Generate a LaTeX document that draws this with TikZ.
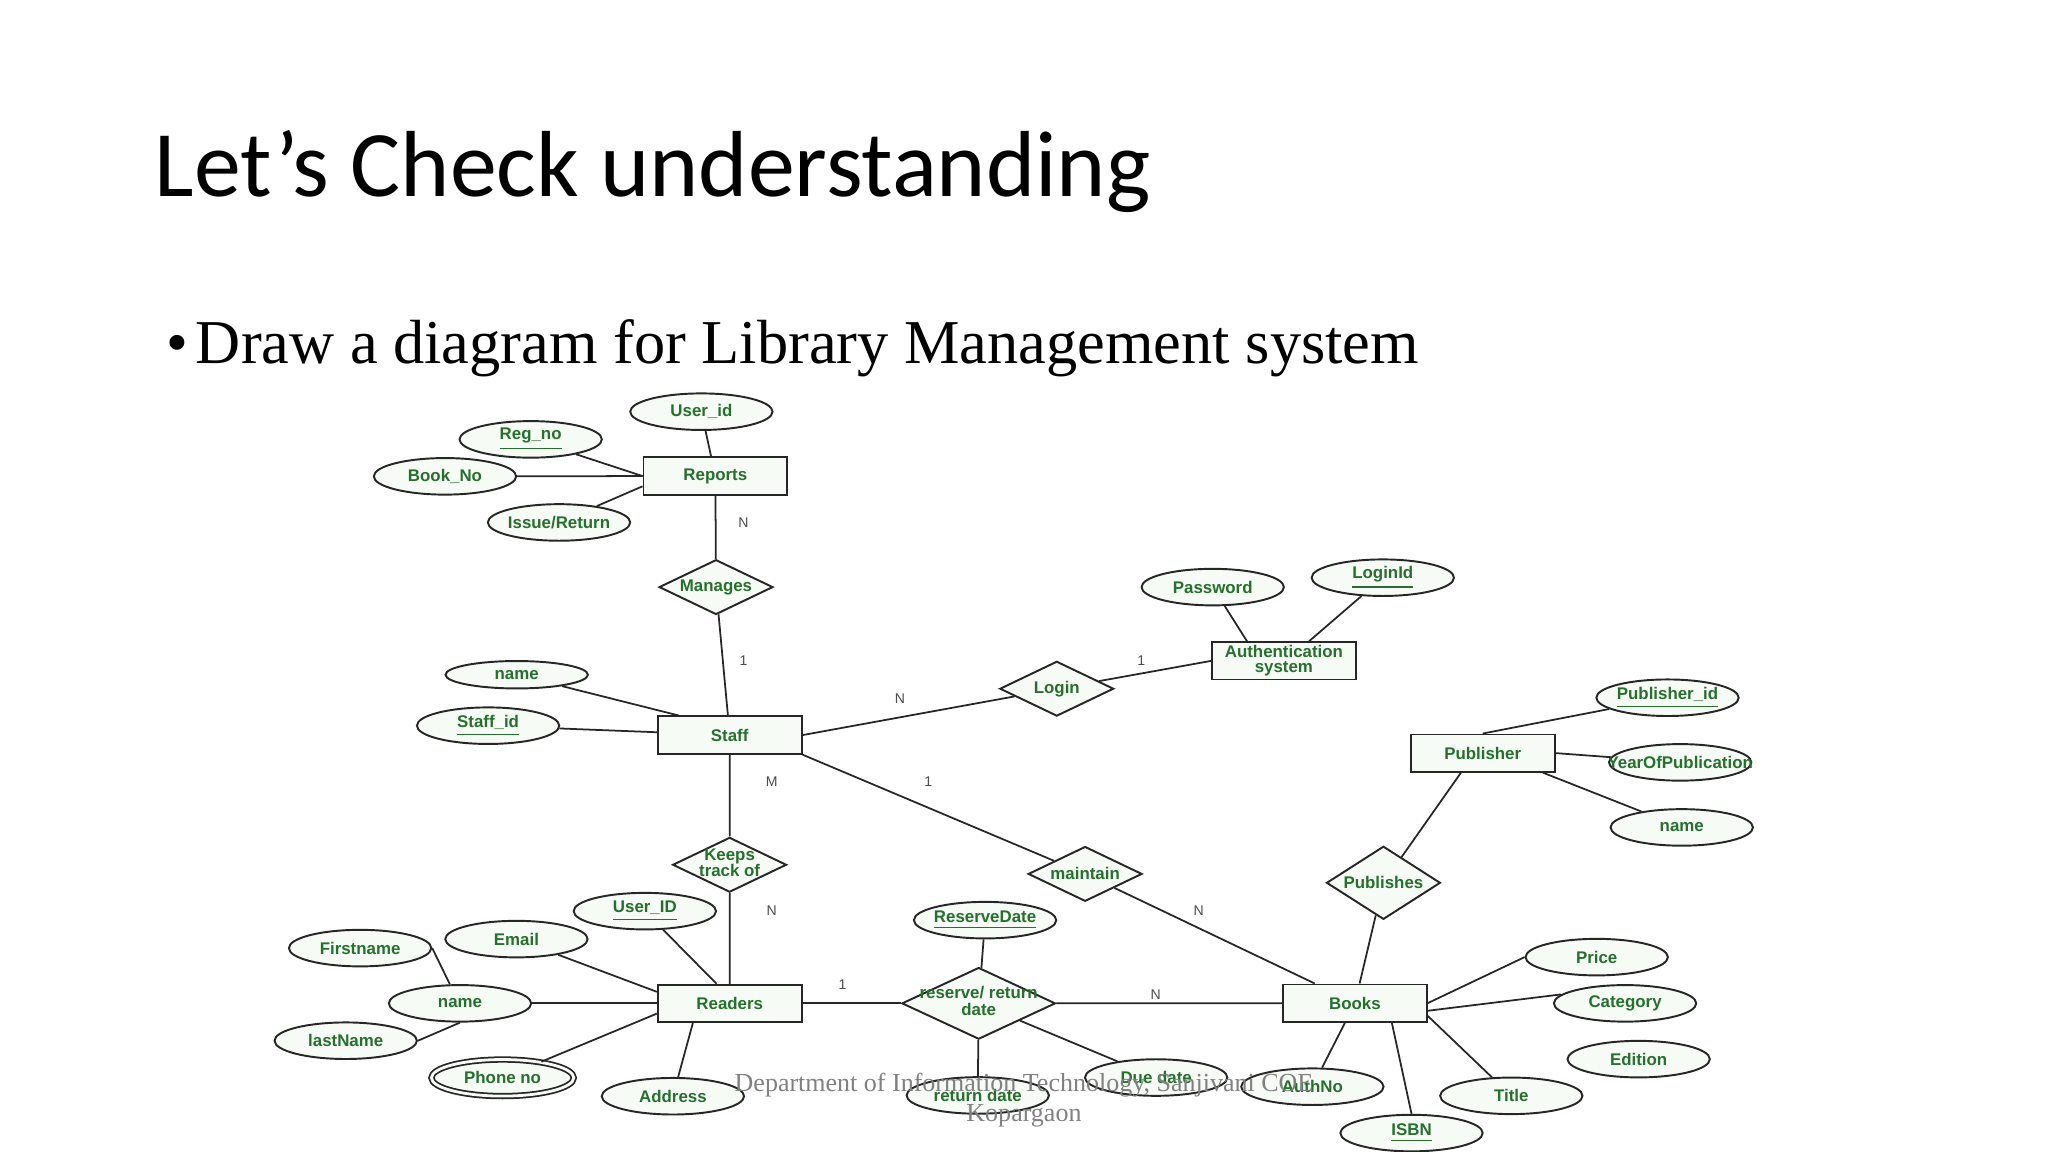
\documentclass[tikz,border=0pt]{standalone}
\usepackage{fontspec}
\usetikzlibrary{shapes.geometric}
\setmainfont{Liberation Serif}
\newfontfamily\headfont{Carlito}
\newfontfamily\erfont{Liberation Sans}
\definecolor{erfill}{RGB}{247,251,245}
\definecolor{ertext}{RGB}{36,112,44}
\definecolor{footgray}{RGB}{128,128,128}
\newcommand{\ertxt}[1]{\makebox[0pt]{#1}}
\newcommand{\twoline}[2]{\makebox[0pt]{\begin{tabular}{@{}c@{}}#1\\#2\end{tabular}}}

\begin{document}
\begin{tikzpicture}[x=0.0130612cm,y=-0.0130612cm,
  erbase/.style={draw=black!85,fill=erfill,line width=0.55pt,inner sep=0pt,
    text=ertext,font=\erfont\bfseries\fontsize{4.8}{4.2}\selectfont},
  attr/.style={erbase,ellipse,minimum width=40.5pt,minimum height=10.4pt},
  ent/.style={erbase,rectangle,minimum width=40.9pt,minimum height=10.6pt},
  rel/.style={erbase,diamond,minimum width=32.4pt,minimum height=15.6pt},
  card/.style={inner sep=0pt,text=black!70,font=\erfont\fontsize{4}{4.5}\selectfont},
  link/.style={draw=black!85,line width=0.5pt}]
\useasboundingbox (0,0) rectangle (1568,882);

% slide text
\node[anchor=base west,inner sep=0pt,font=\headfont\fontsize{26.7}{31}\selectfont] (heading) at (118,150.6) {Let’s Check understanding};
\node[anchor=base west,inner sep=0pt,font=\fontsize{17.75}{21}\selectfont] (bullet) at (127,278.2) {•};
\node[anchor=base west,inner sep=0pt,font=\fontsize{17.75}{21}\selectfont] (task) at (149.5,278.2) {Draw a diagram for Library Management system};

% Reports
\node[ent] (reports) at (547.7,364.5) {\ertxt{Reports}};
\node[attr] (userid) at (537,315.2) {\ertxt{User\_id}};
\node[attr] (regno) at (406.3,336.4) {\ertxt{\underline{Reg\_no}}};
\node[attr] (bookno) at (340.7,364.7) {\ertxt{Book\_No}};
\node[attr] (issueret) at (428,400) {\ertxt{Issue/Return}};
\node[rel] (manages) at (548.2,449.5) {\ertxt{Manages}};

% Staff
\node[ent] (staff) at (558.7,562.8) {\ertxt{Staff}};
\node[attr,minimum height=7.8pt] (sname) at (395.6,516.6) {\ertxt{name}};
\node[attr] (staffid) at (373.7,555.6) {\ertxt{\underline{Staff\_id}}};
\node[rel] (login) at (809.1,527.3) {\ertxt{Login}};
\node[ent] (auth) at (983,506) {\twoline{Authentication}{system}};
\node[attr] (passwd) at (928.5,449.5) {\ertxt{Password}};
\node[attr] (loginid) at (1058.7,442.3) {\ertxt{\underline{LoginId}}};
\node[rel] (keeps) at (558.6,662.1) {\twoline{Keeps}{track of}};
\node[rel] (maintain) at (830.8,669.1) {\ertxt{maintain}};

% Publisher
\node[ent] (publisher) at (1135.2,576.6) {\ertxt{Publisher}};
\node[attr] (pubid) at (1276.7,534.2) {\ertxt{\underline{Publisher\_id}}};
\node[attr] (pubyear) at (1286.4,583.7) {\ertxt{YearOfPublication}};
\node[attr] (pname) at (1287.6,633.5) {\ertxt{name}};
\node[rel,minimum height=20.8pt] (publishes) at (1059.2,675.9) {\ertxt{Publishes}};

% Readers
\node[ent] (readers) at (558.7,768.2) {\ertxt{Readers}};
\node[attr] (ruserid) at (493.7,697.6) {\ertxt{\underline{User\_ID}}};
\node[attr] (email) at (395.4,719) {\ertxt{Email}};
\node[attr] (firstname) at (275.7,725.9) {\ertxt{Firstname}};
\node[attr] (rname) at (352.2,768.2) {\ertxt{name}};
\node[attr] (lastname) at (264.7,796.8) {\ertxt{lastName}};
\node[attr,double=erfill,double distance=0.8pt,line width=0.5pt] (phone) at (384.8,825.2) {\ertxt{Phone no}};
\node[attr] (address) at (515.2,839.3) {\ertxt{Address}};

% reserve / return
\node[rel,minimum width=43.7pt,minimum height=20.4pt] (reserve) at (749.3,768.2) {\twoline{reserve/ return}{date}};
\node[attr] (resdate) at (754.2,704.5) {\ertxt{\underline{ReserveDate}}};
\node[attr] (retdate) at (748.6,838.7) {\ertxt{return date}};
\node[attr] (duedate) at (885.2,825) {\ertxt{Due date}};

% Books
\node[ent] (books) at (1037.4,768) {\ertxt{Books}};
\node[attr] (authno) at (1004.8,832) {\ertxt{AuthNo}};
\node[attr] (isbn) at (1080.7,867.5) {\ertxt{\underline{ISBN}}};
\node[attr] (btitle) at (1157.1,839) {\ertxt{Title}};
\node[attr] (price) at (1222.5,732.8) {\ertxt{Price}};
\node[attr] (category) at (1244.2,768.2) {\ertxt{Category}};
\node[attr] (edition) at (1254.6,810.9) {\ertxt{Edition}};

% connectors
\draw[link] (userid) -- (reports);
\draw[link] (regno) -- (reports.west);
\draw[link] (bookno) -- (reports.west);
\draw[link] (issueret) -- (reports.188);
\draw[link] (reports) -- (manages);
\draw[link] (manages) -- (staff);
\draw[link] (sname) -- (staff.159);
\draw[link] (staffid) -- (staff);
\draw[link] (staff.east) -- (login);
\draw[link] (login) -- (auth.west);
\draw[link] (passwd) -- (auth.152);
\draw[link] (loginid) -- (auth.38);
\draw[link] (staff) -- (keeps);
\draw[link] (staff.south east) -- (maintain);
\draw[link] (keeps) -- (readers);
\draw[link] (maintain) -- (books.154);
\draw[link] (publisher.-138) -- (publishes);
\draw[link] (publishes) -- (books);
\draw[link] (publisher.north) -- (pubid);
\draw[link] (publisher.east) -- (pubyear);
\draw[link] (publisher.-18) -- (pname);
\draw[link] (ruserid) -- (readers.124);
\draw[link] (email) -- (readers.171);
\draw[link] (rname.east) -- (readers.west);
\draw[link] (phone) -- (readers.188);
\draw[link] (address) -- (readers.208);
\draw[link] (firstname.east) -- (rname.118);
\draw[link] (lastname.east) -- (rname.south);
\draw[link] (resdate) -- (reserve);
\draw[link] (readers) -- (reserve);
\draw[link] (reserve) -- (books);
\draw[link] (reserve) -- (retdate);
\draw[link] (reserve) -- (duedate);
\draw[link] (books) -- (authno);
\draw[link] (books.-28) -- (isbn.north);
\draw[link] (books.-10) -- (btitle);
\draw[link] (books.east) -- (price.west);
\draw[link] (books.-6) -- (category.172);

% cardinalities
\node[card] (cardRM) at (569.2,400.2) {N};
\node[card] (cardMS) at (569.2,506) {1};
\node[card] (cardSL) at (689,534.7) {N};
\node[card] (cardLA) at (873.7,506.1) {1};
\node[card] (cardSK) at (590.9,598.5) {M};
\node[card] (cardSM) at (710.8,598.5) {1};
\node[card] (cardKR) at (590.9,697.3) {N};
\node[card] (cardMB) at (917.7,697.5) {N};
\node[card] (cardRR) at (645.1,754.2) {1};
\node[card] (cardRB) at (884.9,761.3) {N};

% footer
\node[anchor=base,inner sep=0pt,text=footgray,font=\fontsize{7.4}{8.5}\selectfont] (footA) at (784,835.9) {Department of Information Technology, Sanjivani COE};
\node[anchor=base,inner sep=0pt,text=footgray,font=\fontsize{7.4}{8.5}\selectfont] (footB) at (784,858.9) {Kopargaon};
\end{tikzpicture}
\end{document}
